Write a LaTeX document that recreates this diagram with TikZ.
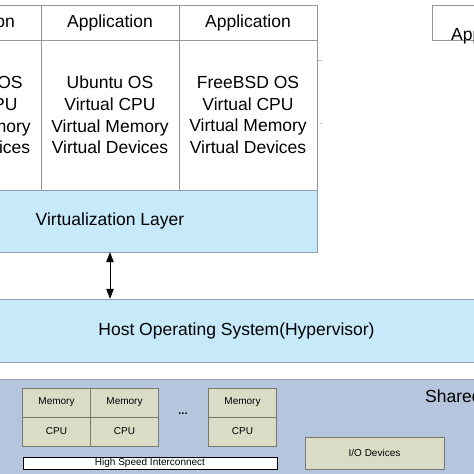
\documentclass[tikz,border=0pt]{standalone}
\usepackage{fontspec}
\setmainfont{Liberation Sans}
\usetikzlibrary{positioning, arrows.meta, calc}

\definecolor{layerblue}{RGB}{198,234,250}
\definecolor{layeredge}{RGB}{140,157,176}
\definecolor{boxedge}{RGB}{150,150,150}
\definecolor{sharedblue}{RGB}{180,197,221}
\definecolor{cellfill}{RGB}{219,220,198}
\definecolor{celledge}{RGB}{120,120,110}

\begin{document}
\begin{tikzpicture}[
    x = 1pt, y = -1pt,
    > = {Triangle[length=10pt, width=7.5pt]},
    big/.style={font=\fontsize{17.5}{21.7}\selectfont},
    small/.style={font=\fontsize{10}{12}\selectfont},
    appbox/.style={draw=boxedge, fill=white, minimum width=138pt, minimum height=35pt, inner sep=0pt, big},
    guestbox/.style={draw=boxedge, fill=white, minimum width=138pt, minimum height=150pt, inner sep=0pt, align=center, big},
    layer/.style={draw=layeredge, fill=layerblue, inner sep=0pt, big},
    cell/.style={draw=celledge, fill=cellfill, minimum width=68pt, minimum height=29pt, inner sep=0pt, small}
]
\useasboundingbox (0,0) rectangle (474,474);
\clip (0,0) rectangle (474,474);

% --- Guest machines ---
\node[appbox] (app1) at (-28, 22.5) {Application};
\node[guestbox] (guest1) at (-28, 115) {Windows OS\\Virtual CPU\\Virtual Memory\\Virtual Devices};

\node[appbox] (app2) at (110, 22.5) {Application};
\node[guestbox] (guest2) at (110, 115) {Ubuntu OS\\Virtual CPU\\Virtual Memory\\Virtual Devices};

\node[appbox] (app3) at (248, 22.5) {Application};
\node[guestbox] (guest3) at (248, 115) {FreeBSD OS\\Virtual CPU\\Virtual Memory\\Virtual Devices};

\node[font=\scriptsize] (dots1) at (320, 61) {..};
\node[font=\scriptsize] (dots2) at (321, 124) {.};

% far right guest, mostly out of view
\node[appbox] (app4) at (501, 22.5) {};
\node[big, anchor=base west, inner sep=0pt] (app4txt) at (451, 40) {Application};

% --- Virtualization and host ---
\node[layer, minimum width=414pt, minimum height=62pt] (vlayer) at (110, 221) {Virtualization Layer};
\node[layer, minimum width=520pt, minimum height=63pt] (host) at (236.5, 330.5) {Host Operating System(Hypervisor)};

\draw[<->, thick] (vlayer.south) -- (vlayer.south |- host.north);

% --- Shared hardware ---
\node[draw=layeredge, fill=sharedblue, minimum width=520pt, minimum height=121pt] (shared) at (240, 439.5) {};
\node[big, anchor=base west, inner sep=0pt] (sharedtxt) at (425, 402) {Shared Memory};

\node[cell] (mem1) at (56.5, 402.5) {Memory};
\node[cell] (cpu1) at (56.5, 431.5) {CPU};
\node[cell] (mem2) at (124.5, 402.5) {Memory};
\node[cell] (cpu2) at (124.5, 431.5) {CPU};
\node[font=\bfseries\fontsize{11}{12}\selectfont] (cdots) at (183, 414) {...};
\node[cell] (mem3) at (242.5, 402.5) {Memory};
\node[cell] (cpu3) at (242.5, 431.5) {CPU};

\node[draw=black, fill=white, minimum width=254pt, minimum height=12pt, inner sep=0pt, small] (hsi) at (150, 463) {High Speed Interconnect};
\node[cell, minimum width=139pt, minimum height=32pt] (io) at (374.5, 453) {I/O Devices};

\end{tikzpicture}
\end{document}
